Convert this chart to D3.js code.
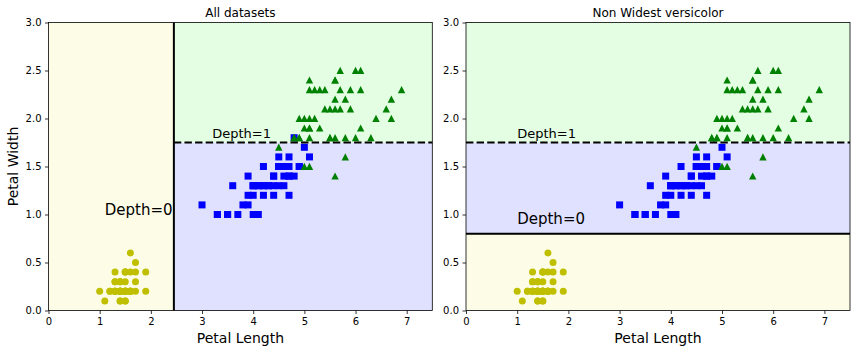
<!DOCTYPE html>
<html>
<head>
<meta charset="utf-8">
<script src="https://cdn.jsdelivr.net/npm/d3@7"></script>
<style>
  body { margin: 0; background: #fff; }
  svg { display: block; font-family: "DejaVu Sans", sans-serif; }
</style>
</head>
<body>
<div id="chart-container"></div>
<script>
// iris petal measurements [length, width]
const setosa = [
  [1.4,0.2],[1.4,0.2],[1.3,0.2],[1.5,0.2],[1.4,0.2],[1.7,0.4],[1.4,0.3],[1.5,0.2],[1.4,0.2],[1.5,0.1],
  [1.5,0.2],[1.6,0.2],[1.4,0.1],[1.1,0.1],[1.2,0.2],[1.5,0.4],[1.3,0.4],[1.4,0.3],[1.7,0.3],[1.5,0.3],
  [1.7,0.2],[1.5,0.4],[1.0,0.2],[1.7,0.5],[1.9,0.2],[1.6,0.2],[1.6,0.4],[1.5,0.2],[1.4,0.2],[1.6,0.2],
  [1.6,0.2],[1.5,0.4],[1.5,0.1],[1.4,0.2],[1.5,0.2],[1.2,0.2],[1.3,0.2],[1.4,0.1],[1.3,0.2],[1.5,0.2],
  [1.3,0.3],[1.3,0.3],[1.3,0.2],[1.6,0.6],[1.9,0.4],[1.4,0.3],[1.6,0.2],[1.4,0.2],[1.5,0.2],[1.4,0.2]
];
const versicolor = [
  [4.7,1.4],[4.5,1.5],[4.9,1.5],[4.0,1.3],[4.6,1.5],[4.5,1.3],[4.7,1.6],[3.3,1.0],[4.6,1.3],[3.9,1.4],
  [3.5,1.0],[4.2,1.5],[4.0,1.0],[4.7,1.4],[3.6,1.3],[4.4,1.4],[4.5,1.5],[4.1,1.0],[4.5,1.5],[3.9,1.1],
  [4.8,1.8],[4.0,1.3],[4.9,1.5],[4.7,1.2],[4.3,1.3],[4.4,1.4],[4.8,1.4],[5.0,1.7],[4.5,1.5],[3.5,1.0],
  [3.8,1.1],[3.7,1.0],[3.9,1.2],[5.1,1.6],[4.5,1.5],[4.5,1.6],[4.7,1.5],[4.4,1.3],[4.1,1.3],[4.0,1.3],
  [4.4,1.2],[4.6,1.4],[4.0,1.2],[3.3,1.0],[4.2,1.3],[4.2,1.2],[4.2,1.3],[4.3,1.3],[3.0,1.1],[4.1,1.3]
];
const virginica = [
  [6.0,2.5],[5.1,1.9],[5.9,2.1],[5.6,1.8],[5.8,2.2],[6.6,2.1],[4.5,1.7],[6.3,1.8],[5.8,1.8],[6.1,2.5],
  [5.1,2.0],[5.3,1.9],[5.5,2.1],[5.0,2.0],[5.1,2.4],[5.3,2.3],[5.5,1.8],[6.7,2.2],[6.9,2.3],[5.0,1.5],
  [5.7,2.3],[4.9,2.0],[6.7,2.0],[4.9,1.8],[5.7,2.1],[6.0,1.8],[4.8,1.8],[4.9,1.8],[5.6,2.1],[5.8,1.6],
  [6.1,1.9],[6.4,2.0],[5.6,2.2],[5.1,1.5],[5.6,1.4],[6.1,2.3],[5.6,2.4],[5.5,1.8],[4.8,1.8],[5.4,2.1],
  [5.6,2.4],[5.1,2.3],[5.1,1.9],[5.9,2.3],[5.7,2.5],[5.2,2.3],[5.0,1.9],[5.2,2.0],[5.4,2.3],[5.1,1.8]
];

// widest versicolor removed for the second tree
const maxVersiWidth = d3.max(versicolor, d => d[1]);
const versicolorNoWidest = versicolor.filter(d => d[1] < maxVersiWidth);

const xTicks = [0, 1, 2, 3, 4, 5, 6, 7];
const yTicks = [0, 0.5, 1, 1.5, 2, 2.5, 3];

// decision regions of each tree: [x0, x1, y0, y1, class]
const regionsAll = [
  [0, 2.45, 0, 3, 0],
  [2.45, 7.5, 0, 1.75, 1],
  [2.45, 7.5, 1.75, 3, 2]
];
const regionsNonWidest = [
  [0, 7.5, 0, 0.8, 0],
  [0, 7.5, 0.8, 1.75, 1],
  [0, 7.5, 1.75, 3, 2]
];

// split lines: [x1, y1, x2, y2, dashed]
const splitsAll = [
  [2.45, 0, 2.45, 3, false],
  [2.45, 1.75, 7.5, 1.75, true]
];
const splitsNonWidest = [
  [0, 0.8, 7.5, 0.8, false],
  [0, 1.75, 7.5, 1.75, true]
];

// depth labels: [x, y, text, fontsize]
const labelsAll = [[1.1, 1.0, "Depth=0", 15], [3.2, 1.8, "Depth=1", 13]];
const labelsNonWidest = [[1.0, 0.9, "Depth=0", 15], [1.0, 1.8, "Depth=1", 13]];

const regionColors = ["#fdfde7", "#e0e0ff", "#e3fee3"];

const W = 856, H = 352;
const svg = d3.select("#chart-container").append("svg")
  .attr("width", W)
  .attr("height", H);

const panelTop = 22.5, panelBottom = 310.5;

function drawPanel(left, right, title, regions, splits, labels, versi, showYLabel) {
  const x = d3.scaleLinear().domain([0, 7.5]).range([left, right]);
  const y = d3.scaleLinear().domain([0, 3]).range([panelBottom, panelTop]);
  const g = svg.append("g");

  // background regions
  g.selectAll("rect.region")
    .data(regions)
    .join("rect")
    .attr("class", "region")
    .attr("x", d => x(d[0]))
    .attr("y", d => y(d[3]))
    .attr("width", d => x(d[1]) - x(d[0]))
    .attr("height", d => y(d[2]) - y(d[3]))
    .attr("fill", d => regionColors[d[4]]);

  // setosa circles
  g.selectAll("circle.setosa")
    .data(setosa)
    .join("circle")
    .attr("cx", d => x(d[0]))
    .attr("cy", d => y(d[1]))
    .attr("r", 3.5)
    .attr("fill", "#bfbf00");

  // versicolor squares
  g.selectAll("rect.versi")
    .data(versi)
    .join("rect")
    .attr("x", d => x(d[0]) - 3.5)
    .attr("y", d => y(d[1]) - 3.5)
    .attr("width", 7)
    .attr("height", 7)
    .attr("fill", "#0000ff");

  // virginica triangles
  g.selectAll("path.virg")
    .data(virginica)
    .join("path")
    .attr("d", d => {
      const cx = x(d[0]), cy = y(d[1]);
      return `M${cx},${cy - 3.7}L${cx + 3.7},${cy + 3.5}L${cx - 3.7},${cy + 3.5}Z`;
    })
    .attr("fill", "#008000");

  // split lines
  g.selectAll("line.split")
    .data(splits)
    .join("line")
    .attr("x1", d => x(d[0]))
    .attr("y1", d => y(d[1]))
    .attr("x2", d => x(d[2]))
    .attr("y2", d => y(d[3]))
    .attr("stroke", "#000")
    .attr("stroke-width", 2)
    .attr("stroke-dasharray", d => d[4] ? "7.4,3.2" : null);

  // depth labels
  g.selectAll("text.depth")
    .data(labels)
    .join("text")
    .attr("x", d => x(d[0]))
    .attr("y", d => y(d[1]))
    .style("font-size", d => d[3] + "px")
    .attr("fill", "#000")
    .text(d => d[2]);

  // axes
  g.append("g")
    .attr("transform", `translate(0,${panelBottom})`)
    .style("font-size", "10px")
    .call(d3.axisBottom(x).tickValues(xTicks).tickFormat(d3.format("d")).tickSize(3.5).tickSizeOuter(0).tickPadding(3.5))
    .call(a => a.select(".domain").remove());

  g.append("g")
    .attr("transform", `translate(${left},0)`)
    .style("font-size", "10px")
    .call(d3.axisLeft(y).tickValues(yTicks).tickFormat(d3.format(".1f")).tickSize(3.5).tickSizeOuter(0).tickPadding(3.5))
    .call(a => a.select(".domain").remove());

  g.selectAll(".tick text").attr("fill", "#000").style("font-family", "DejaVu Sans, sans-serif");
  g.selectAll(".tick line").attr("stroke", "#000").attr("stroke-width", 0.8);

  // frame
  g.append("rect")
    .attr("x", left)
    .attr("y", panelTop)
    .attr("width", right - left)
    .attr("height", panelBottom - panelTop)
    .attr("fill", "none")
    .attr("stroke", "#000")
    .attr("stroke-width", 0.8);

  // title
  g.append("text")
    .attr("x", (left + right) / 2)
    .attr("y", 16.5)
    .attr("text-anchor", "middle")
    .style("font-size", "12px")
    .text(title);

  // x label
  g.append("text")
    .attr("x", (left + right) / 2)
    .attr("y", 343)
    .attr("text-anchor", "middle")
    .style("font-size", "14px")
    .text("Petal Length");

  if (showYLabel) {
    g.append("text")
      .attr("transform", `translate(18,${(panelTop + panelBottom) / 2}) rotate(-90)`)
      .attr("text-anchor", "middle")
      .style("font-size", "14px")
      .text("Petal Width");
  }
}

drawPanel(48.5, 432.3, "All datasets", regionsAll, splitsAll, labelsAll, versicolor, true);
drawPanel(466, 850, "Non Widest versicolor", regionsNonWidest, splitsNonWidest, labelsNonWidest, versicolorNoWidest, false);
</script>
</body>
</html>
